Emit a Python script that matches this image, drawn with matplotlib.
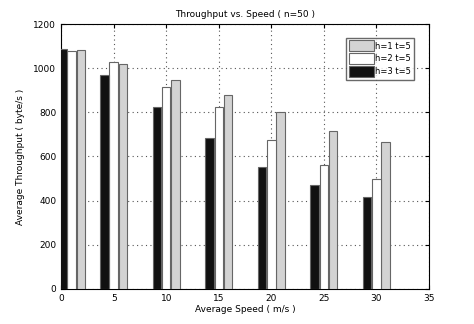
import numpy as np
import matplotlib.pyplot as plt

# speed groups (m/s) and average throughput per series (byte/s)
speeds = [1, 5, 10, 15, 20, 25, 30]
h1_t5 = [1084, 1019, 948, 878, 802, 717, 664]
h2_t5 = [1081, 1030, 916, 826, 675, 560, 499]
h3_t5 = [1088, 970, 826, 683, 552, 469, 414]

series_labels = ['h=1 t=5', 'h=2 t=5', 'h=3 t=5']

fig = plt.figure(figsize=(4.74, 3.24), dpi=100)
ax = fig.add_axes([0.129, 0.109, 0.776, 0.816])

x = np.array(speeds, dtype=float)
w = 0.8
step = 0.88
edge = '#666666'
b1 = ax.bar(x + step, h1_t5, width=w, color='#d3d3d3', edgecolor=edge, linewidth=0.8, label=series_labels[0], zorder=3)
b2 = ax.bar(x, h2_t5, width=w, color='white', edgecolor=edge, linewidth=0.8, label=series_labels[1], zorder=3)
b3 = ax.bar(x - step, h3_t5, width=w, color='#111111', edgecolor=edge, linewidth=0.8, label=series_labels[2], zorder=3)

ax.set_xlim(0, 35)
ax.set_ylim(0, 1200)
ax.set_xticks(np.arange(0, 36, 5))
ax.set_yticks(np.arange(0, 1201, 200))
ax.grid(True, linestyle=(0, (1, 3)), color='#555555', linewidth=0.8, zorder=0)
ax.tick_params(direction='in', labelsize=6.5, length=3, right=True, top=True)

ax.set_title('Throughput vs. Speed ( n=50 )', fontsize=6.5, pad=5)
ax.set_xlabel('Average Speed ( m/s )', fontsize=6.5, labelpad=2)
ax.set_ylabel('Average Throughput ( byte/s )', fontsize=6.5, labelpad=6)

ax.legend(handles=[b1, b2, b3], loc='upper right', fontsize=6, frameon=True,
          fancybox=False, edgecolor='#444444', handlelength=3.0, handleheight=1.7,
          handletextpad=0.2, borderpad=0.3, labelspacing=0.2,
          bbox_to_anchor=(0.97, 0.965))

fig.savefig('out.png', dpi=100)
